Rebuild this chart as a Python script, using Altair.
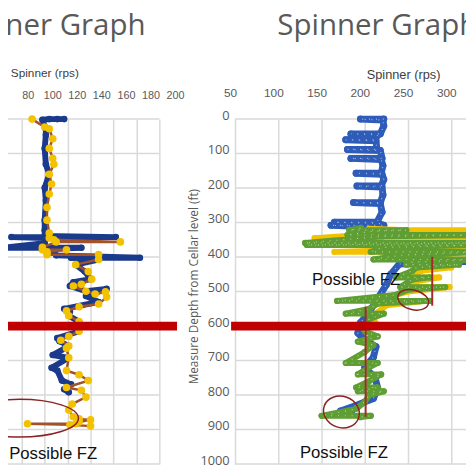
import altair as alt
import pandas as pd

# ---------------- data ----------------
L_TICKS = [80, 100, 120, 140, 160, 180, 200]
R_TICKS = [50, 100, 150, 200, 250, 300]
DEPTH_TICKS = [0, 100, 200, 300, 400, 500, 600, 700, 800, 900, 1000]
TITLE = "Spinner Graph"
X_TITLE = "Spinner (rps)"
Y_TITLE = "Measure Depth from Cellar level (ft)"
FZ_LABEL = "Possible FZ"
RED_DEPTH = [600]

# left panel, blue series
LB_depth = [0, 0, 0, 2, 28, 46, 85, 131, 160, 199, 236, 293, 322, 339, 342, 342, 345, 360,
            373, 373, 376, 395, 402, 402, 407, 422, 442, 464, 473, 484, 499, 492, 513, 530,
            550, 558, 570, 587, 601, 615, 635, 644, 658, 684, 692, 721, 729, 758, 769, 783, 792]
LB_rps = [117, 111, 104, 98, 101, 101, 100, 101, 104, 100, 101, 100, 100, 100, 162, 71, 100, 100,
          64, 132, 105, 110, 183, 123, 147, 127, 135, 140, 125, 122, 136, 154, 136, 147,
          117, 122, 121, 130, 130, 130, 111, 113, 121, 107, 121, 106, 111, 115, 123, 117, 121]

# left panel, yellow series
LY_depth = [0, 23, 28, 57, 85, 114, 131, 160, 188, 217, 256, 293, 330, 345, 350, 356, 356, 372,
            379, 379, 385, 393, 393, 407, 422, 442, 464, 479, 484, 499, 507, 501, 516, 536, 544,
            556, 570, 587, 601, 615, 630, 641, 658, 664, 692, 729, 741, 758, 778, 786, 806, 826,
            843, 863, 869, 872, 878, 883, 883, 886, 890]
LY_rps = [89, 100, 104, 107, 104, 107, 108, 104, 106, 104, 102, 102, 104, 104, 108, 166, 110, 98,
          98, 119, 102, 102, 147, 147, 127, 138, 141, 132, 125, 136, 144, 153, 154, 147, 130,
          119, 121, 130, 130, 130, 121, 114, 121, 119, 121, 119, 130, 138, 119, 132, 136, 124,
          121, 125, 130, 140, 130, 127, 85, 122, 140]

# right panel, blue series
RB_depth = [0, 0, 3, 20, 43, 43, 46, 60, 60, 63, 88, 88, 91, 114, 114, 117, 135, 157, 157, 160,
            175, 194, 194, 197, 220, 242, 242, 245, 270, 299, 299, 302, 308, 308, 312, 330, 345,
            360, 375, 390, 413, 420, 450, 480, 520, 560, 590, 620, 640, 660, 690, 720, 750, 780,
            810, 830, 846, 855]
RB_rps = [222, 195, 221, 222, 218, 184, 215, 212, 178, 213, 214, 180, 218, 220, 184, 219, 221, 219,
          190, 220, 222, 219, 191, 220, 221, 218, 187, 218, 220, 214, 165, 216, 222, 161, 210, 205,
          216, 250, 300, 230, 316, 240, 230, 225, 215, 205, 195, 192, 200, 213, 210, 200, 212, 215,
          210, 190, 172, 185]

# right panel, green series
RG_depth = [316, 322, 322, 326, 336, 336, 340, 359, 359, 365, 365, 372, 385, 385, 395, 407, 407,
            415, 422, 422, 430, 440, 459, 459, 465, 487, 487, 495, 510, 527, 527, 535, 550, 564,
            564, 580, 600, 615, 630, 645, 655, 675, 707, 707, 720, 740, 740, 760, 778, 778, 789,
            789, 800, 820, 840, 860, 860, 864]
RG_rps = [195, 182, 248, 205, 180, 335, 220, 131, 335, 133, 335, 220, 207, 335, 240, 210, 335,
          250, 248, 309, 260, 255, 236, 275, 255, 241, 293, 250, 235, 168, 275, 215, 205, 178,
          222, 205, 205, 200, 215, 192, 210, 200, 178, 215, 205, 192, 219, 205, 190, 215, 192,
          222, 205, 200, 190, 150, 207, 195]

# right panel, yellow series
RY_depth = [318, 322, 322, 330, 345, 345, 352, 359, 372, 385, 385, 395, 407, 407, 415, 430, 440,
            459, 459, 470, 487, 487, 500, 527, 527, 540, 560, 580, 600]
RY_rps = [205, 248, 335, 230, 142, 335, 240, 187, 335, 165, 335, 240, 300, 335, 260, 300, 265,
          250, 286, 260, 255, 298, 250, 210, 270, 225, 215, 210, 215]

# annotations
FZ_L_rps, FZ_L_depth = [69], [972]
FZ_R_rps, FZ_R_depth = [139, 125], [466, 968]
VLINE_rps = [278, 201]
VLINE_top = [399, 544]
VLINE_bot = [541, 863]
ELL_L = {"rps": [78], "depth": [867]}
ELL_R1 = {"rps": [256], "depth": [524]}
ELL_R2 = {"rps": [173], "depth": [849]}

# ---------------- styling ----------------
LAB = "'Liberation Sans', Arial, sans-serif"
SANS = "'Open Sans', 'Liberation Sans', sans-serif"
GRID = "#D9D9D9"
NAVY = "#1B3A8C"
BLUE = "#2E5CB8"
GOLD = "#F2C200"
BROWN = "#A0522D"
GREEN = "#5E9E32"
DARKRED = "#8B2323"
RED = "#C00000"
GRAY = "#595959"

def sdf(d, v):
    return pd.DataFrame({"depth": d, "rps": v, "i": list(range(len(d)))})

sL = alt.Scale(domain=[80, 200], range=[14, 154], nice=False, zero=False)
sR = alt.Scale(domain=[50, 300], range=[231, 451], nice=False, zero=False)
sY = alt.Scale(domain=[0, 1000], range=[0, 351], nice=False, zero=False)

axL = alt.Axis(orient="top", values=L_TICKS, grid=True, gridColor=GRID, gridWidth=1.5,
               ticks=False, domain=False, labelFont=LAB, labelFontSize=11, labelColor=GRAY,
               labelPadding=19, labelFlush=False, labelOverlap=False,
               labelOffset={"expr": "(datum.value - 80) * 0.083 + 6"},
               title=X_TITLE, titleFont=LAB, titleFontSize=12, titleFontWeight="normal",
               titleColor="#404040", titleX=37, titleY=-47, titleBaseline="middle",
               titleAlign="center")
axR = alt.Axis(orient="top", values=R_TICKS, grid=True, gridColor=GRID, gridWidth=1.5,
               ticks=False, domain=False, labelFont=LAB, labelFontSize=12, labelColor=GRAY,
               labelPadding=20, labelFlush=False, labelOverlap=False, labelOffset=-5,
               title=X_TITLE, titleFont=LAB, titleFontSize=13, titleFontWeight="normal",
               titleColor="#404040", titleX=402, titleY=-45, titleBaseline="middle",
               titleAlign="center")
axY = alt.Axis(orient="left", offset=-231, values=DEPTH_TICKS, format="d", grid=False, ticks=False,
               domain=False, labelFont=SANS, labelFontSize=13, labelColor=GRAY,
               labelPadding=6, labelOffset=-4, labelOverlap=False, labelFlush=False,
               title=Y_TITLE, titleFont=SANS, titleFontSize=12, titleFontWeight="normal",
               titleColor=GRAY, titleX=-42, titleY=170, titleBaseline="middle",
               titleAlign="center", titleAngle=270)

xL = alt.X("rps:Q", scale=sL, axis=axL)
xR = alt.X("rps:Q", scale=sR, axis=axR)
yY = alt.Y("depth:Q", scale=sY, axis=axY)

ELL_SHAPE_L = "M -1 0 A 1 0.32 0 1 0 1 0 A 1 0.32 0 1 0 -1 0 Z"
ELL_SHAPE_R1 = "M -1 0 A 1 0.62 0 1 0 1 0 A 1 0.62 0 1 0 -1 0 Z"
ELL_SHAPE_R2 = "M -1 0 A 1 0.86 0 1 0 1 0 A 1 0.86 0 1 0 -1 0 Z"

grid_df = pd.DataFrame({"depth": DEPTH_TICKS})


def beads(df, x, color, width, size, highlight=False):
    layers = [
        alt.Chart(df).mark_line(color=color, strokeWidth=width, strokeJoin="round",
                                strokeCap="round").encode(x=x, y=yY, order="i:Q"),
        alt.Chart(df).mark_circle(color=color, size=size, opacity=1).encode(x=x, y=yY),
    ]
    if highlight:
        layers.append(
            alt.Chart(df).mark_line(color="white", strokeWidth=1.2, strokeDash=[1, 6],
                                    opacity=0.55).encode(x=x, y=yY, order="i:Q"))
    return layers


# ---------------- left panel ----------------
lb, ly = sdf(LB_depth, LB_rps), sdf(LY_depth, LY_rps)
left = alt.layer(
    alt.Chart(grid_df).mark_rule(color=GRID, strokeWidth=1.5).encode(
        y=yY, x=alt.value(0), x2=alt.value(154)),
    *beads(lb, xL, NAVY, 6, 45),
    alt.Chart(ly).mark_line(color=BROWN, strokeWidth=2.5).encode(x=xL, y=yY, order="i:Q"),
    alt.Chart(ly).mark_circle(color=GOLD, size=60, opacity=1).encode(x=xL, y=yY),
    alt.Chart(pd.DataFrame(ELL_L)).mark_point(shape=ELL_SHAPE_L, size=14400, filled=False,
                                             color=DARKRED, strokeWidth=1.5, opacity=1).encode(
        x=xL, y=yY),
    alt.Chart(pd.DataFrame({"rps": FZ_L_rps, "depth": FZ_L_depth, "t": [FZ_LABEL]})).mark_text(
        align="left", baseline="middle", font=LAB, fontSize=17, color="#111111").encode(
        x=xL, y=yY, text="t:N"),
)

# ---------------- right panel ----------------
rb, rg, ry = sdf(RB_depth, RB_rps), sdf(RG_depth, RG_rps), sdf(RY_depth, RY_rps)
right = alt.layer(
    alt.Chart(grid_df).mark_rule(color=GRID, strokeWidth=1.5).encode(
        y=yY, x=alt.value(231), x2=alt.value(466)),
    *beads(rb, xR, BLUE, 7, 50, highlight=True),
    *beads(ry, xR, GOLD, 6, 40),
    *beads(rg, xR, GREEN, 6, 40, highlight=True),
    alt.Chart(pd.DataFrame({"rps": VLINE_rps, "depth": VLINE_top, "depth2": VLINE_bot})).mark_rule(
        color="#A52A2A", strokeWidth=2).encode(x=xR, y=yY, y2="depth2:Q"),
    alt.Chart(pd.DataFrame(ELL_R1)).mark_point(shape=ELL_SHAPE_R1, size=1024, filled=False, angle=15,
                                              color=DARKRED, strokeWidth=1.5, opacity=1).encode(
        x=xR, y=yY),
    alt.Chart(pd.DataFrame(ELL_R2)).mark_point(shape=ELL_SHAPE_R2, size=1369, filled=False, angle=20,
                                              color=DARKRED, strokeWidth=1.5, opacity=1).encode(
        x=xR, y=yY),
    alt.Chart(pd.DataFrame({"rps": FZ_R_rps, "depth": FZ_R_depth, "t": [FZ_LABEL, FZ_LABEL]})).mark_text(
        align="left", baseline="middle", font=LAB, fontSize=17, color="#111111").encode(
        x=xR, y=yY, text="t:N"),
)

# ---------------- decorations ----------------
red_df = pd.DataFrame({"depth": RED_DEPTH})
title_df = pd.DataFrame({"t": [TITLE]})
deco = alt.layer(
    alt.Chart(red_df).mark_rule(color=RED, strokeWidth=9).encode(
        y=yY, x=alt.value(0), x2=alt.value(172)),
    alt.Chart(red_df).mark_rule(color=RED, strokeWidth=9).encode(
        y=yY, x=alt.value(227), x2=alt.value(466)),
    alt.Chart(title_df).mark_text(align="right", baseline="middle", font=SANS, fontSize=30,
                                  color=GRAY).encode(x=alt.value(140), y=alt.value(-95), text="t:N"),
    alt.Chart(title_df).mark_text(align="left", baseline="middle", font=SANS, fontSize=30,
                                  color=GRAY).encode(x=alt.value(274), y=alt.value(-95), text="t:N"),
)

chart = alt.layer(left, right, deco).resolve_scale(x="independent").properties(
    width=466, height=351,
    autosize=alt.AutoSizeParams(type="none"),
    padding={"left": 0, "top": 109, "right": 0, "bottom": 2},
).configure_view(stroke=None)

chart.save("out.html", embed_options={"renderer": "svg", "actions": False})
